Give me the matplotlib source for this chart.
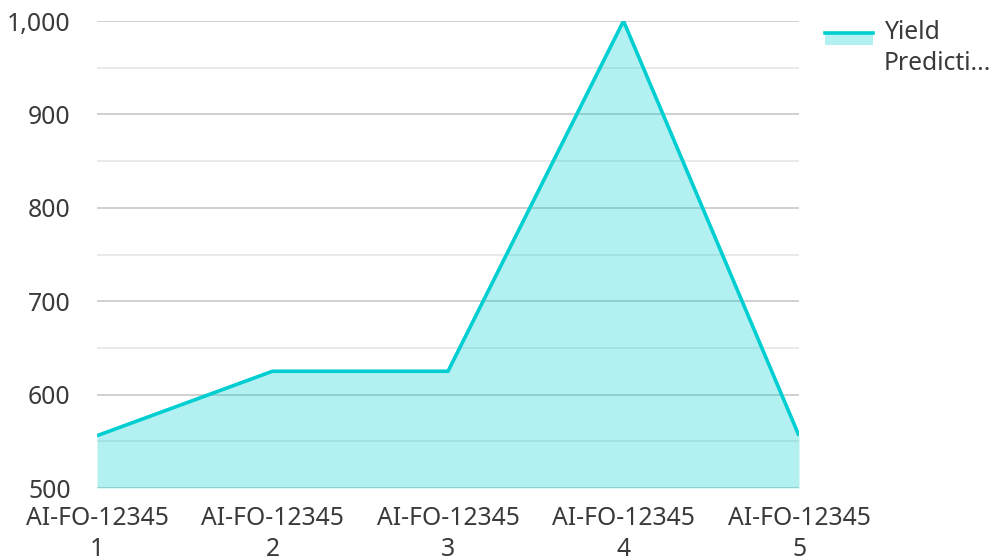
import matplotlib
matplotlib.use("Agg")
import matplotlib.pyplot as plt
from matplotlib.lines import Line2D
from matplotlib.patches import Rectangle
from matplotlib.ticker import FuncFormatter, MultipleLocator

plt.rcParams['font.family'] = ['Noto Sans', 'DejaVu Sans']

categories = ["AI-FO-123451", "AI-FO-123452", "AI-FO-123453", "AI-FO-123454", "AI-FO-123455"]
tick_labels = ["AI-FO-12345\n1", "AI-FO-12345\n2", "AI-FO-12345\n3", "AI-FO-12345\n4", "AI-FO-12345\n5"]
yield_values = [556, 625, 625, 1000, 556]
series_name = "Yield Prediction"
legend_label = "Yield\nPredicti..."

line_color = "#00CED1"
text_color = "#3a3a3a"

fig = plt.figure(figsize=(9.91, 5.6), dpi=100)
ax = fig.add_axes([97/991, 72/560, (799-97)/991, (488-21)/560])

x = list(range(len(categories)))
ax.fill_between(x, yield_values, 500, color=line_color, alpha=0.3, linewidth=0, zorder=2)
ax.plot(x, yield_values, color=line_color, linewidth=2.6, zorder=3, solid_capstyle='butt')

ax.set_xlim(0, len(categories) - 1)
ax.set_ylim(500, 1000)
ax.yaxis.set_major_locator(MultipleLocator(100))
ax.yaxis.set_minor_locator(MultipleLocator(50))
ax.yaxis.set_major_formatter(FuncFormatter(lambda v, p: f"{int(v):,}"))
ax.grid(axis='y', which='major', color='#c8c8c8', linewidth=1.2, zorder=1)
ax.grid(axis='y', which='minor', color='#e6e6e6', linewidth=1.2, zorder=1)
ax.set_axisbelow(True)

ax.set_xticks(x)
ax.set_xticklabels(tick_labels, linespacing=1.32)
ax.tick_params(axis='both', which='both', length=0, labelsize=17.8, colors=text_color)
ax.tick_params(axis='y', pad=19)
ax.tick_params(axis='x', pad=13)
for s in ax.spines.values():
    s.set_visible(False)

# legend
fig.add_artist(Rectangle((825/991, 1 - 45/560), 48/991, 12/560, transform=fig.transFigure,
                         facecolor=line_color, alpha=0.3, edgecolor='none'))
fig.add_artist(Line2D([825/991, 873/991], [1 - 33/560, 1 - 33/560], transform=fig.transFigure,
                      color=line_color, linewidth=2.6))
fig.text(884/991, 1 - 20/560, legend_label, ha='left', va='top', fontsize=17.8,
         color=text_color, linespacing=1.32)

fig.savefig("out.png", dpi=100)
